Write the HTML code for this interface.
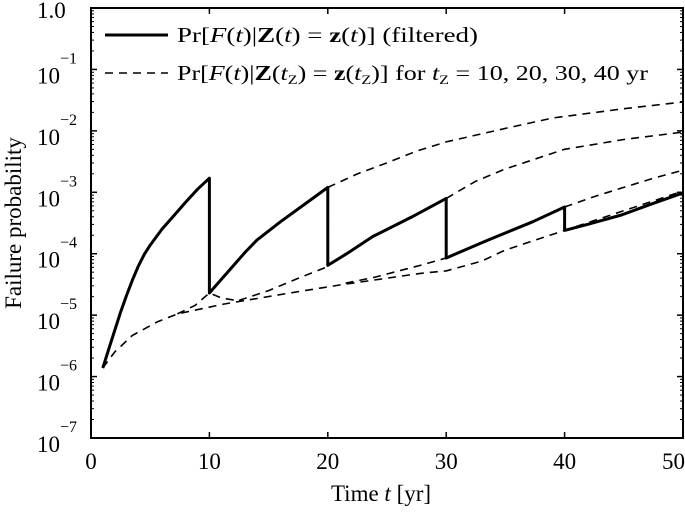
<!DOCTYPE html>
<html><head><meta charset="utf-8"><style>
html,body{margin:0;padding:0;background:#fff;}
svg, svg text{font-family:"Liberation Serif","Times New Roman",Times,serif;}
</style></head><body>
<svg id="chart" width="685" height="507" viewBox="0 0 685 507" xmlns="http://www.w3.org/2000/svg" font-family="Liberation Serif, Times New Roman, serif">
<g id="marks"></g>
<g id="axes"></g>
<g>
  <line x1="105" y1="35" x2="168" y2="35" stroke="#000" stroke-width="3"/>
  <text x="177" y="42" font-size="21" textLength="301" lengthAdjust="spacingAndGlyphs">Pr[<tspan font-style="italic">F</tspan>(<tspan font-style="italic">t</tspan>)|<tspan font-weight="bold">Z</tspan>(<tspan font-style="italic">t</tspan>) = <tspan font-weight="bold">z</tspan>(<tspan font-style="italic">t</tspan>)] (filtered)</text>
  <line x1="105" y1="73" x2="168" y2="73" stroke="#000" stroke-width="1.6" stroke-dasharray="8,6"/>
  <text x="177" y="80" font-size="21" textLength="471" lengthAdjust="spacingAndGlyphs">Pr[<tspan font-style="italic">F</tspan>(<tspan font-style="italic">t</tspan>)|<tspan font-weight="bold">Z</tspan>(<tspan font-style="italic">t</tspan><tspan font-size="13" dy="4">Z</tspan><tspan dy="-4">) = </tspan><tspan font-weight="bold">z</tspan>(<tspan font-style="italic">t</tspan><tspan font-size="13" dy="4">Z</tspan><tspan dy="-4">)] for </tspan><tspan font-style="italic">t</tspan><tspan font-size="13" dy="4">Z</tspan><tspan dy="-4"> = 10, 20, 30, 40 yr</tspan></text>
</g>
<text x="381" y="501" font-size="23" text-anchor="middle">Time <tspan font-style="italic">t</tspan> [yr]</text>
<text transform="translate(21,223) rotate(-90)" font-size="23" text-anchor="middle">Failure probability</text>
</svg>
<script>
// Data (time in years, value = log10 failure probability)
const xTicks = [0, 10, 20, 30, 40, 50];
const yTickExps = [-7, -6, -5, -4, -3, -2, -1, 0];
const yTickLabels = ["10","10","10","10","10","10","10","1.0"];
const yTickSups = ["\u22127","\u22126","\u22125","\u22124","\u22123","\u22122","\u22121",""];

const filteredT = [1, 1.5, 2, 2.5, 3, 3.5, 4, 4.5, 5, 6, 7, 8, 9, 10, 10, 11, 12, 13, 14, 16, 18, 20, 20, 21.6, 23.8, 27.1, 30, 30, 33.5, 37.3, 40, 40, 42, 44.8, 47.5, 50];
const filteredV = [-5.86, -5.55, -5.25, -4.95, -4.68, -4.43, -4.2, -4.01, -3.86, -3.6, -3.38, -3.16, -2.95, -2.77, -4.64, -4.42, -4.2, -3.98, -3.78, -3.48, -3.2, -2.92, -4.19, -4.0, -3.72, -3.4, -3.1, -4.07, -3.78, -3.48, -3.24, -3.62, -3.52, -3.37, -3.18, -3.01];

const priorT = [1, 2, 3.5, 5.6, 7.3, 11.2, 16.8, 21, 27.8, 30, 33, 35, 37.5, 40, 45, 50];
const priorV = [-5.86, -5.6, -5.33, -5.11, -4.98, -4.82, -4.64, -4.51, -4.32, -4.28, -4.12, -3.94, -3.78, -3.62, -3.3, -2.98];

const tz10T = [7.3, 8.8, 10, 11, 12.5];
const tz10V = [-4.98, -4.84, -4.64, -4.72, -4.77];
const tz20T = [12.5, 15, 17.5, 20];
const tz20V = [-4.76, -4.6, -4.4, -4.21];
const tz30T = [21.5, 24, 26, 27.8, 30];
const tz30V = [-4.48, -4.38, -4.28, -4.19, -4.07];

const upperT = [20, 22.5, 25, 27.5, 30, 35, 39, 45, 50];
const upperV = [-2.92, -2.7, -2.52, -2.33, -2.18, -1.96, -1.79, -1.64, -1.53];
const midT = [30, 32.5, 35, 40, 45, 50];
const midV = [-3.1, -2.82, -2.62, -2.3, -2.14, -2.02];
const lowT = [40, 42.5, 45, 47.5, 50];
const lowV = [-3.24, -3.07, -2.92, -2.77, -2.64];

const X0 = 91, X1 = 683, Y0 = 8, Y1 = 438;
const xs = t => X0 + (t - 0) / 50 * (X1 - X0);
const ys = v => Y0 + (0 - v) / 7 * (Y1 - Y0);
const NS = "http://www.w3.org/2000/svg";
const marks = document.getElementById("marks");
const axes = document.getElementById("axes");

function mk(tag, attrs, parent) {
  const e = document.createElementNS(NS, tag);
  for (const k in attrs) e.setAttribute(k, attrs[k]);
  parent.appendChild(e);
  return e;
}
function poly(T, V) {
  return T.map((t, i) => xs(t).toFixed(1) + "," + ys(V[i]).toFixed(1)).join(" ");
}

const dashed = [[priorT, priorV, "prior"], [tz10T, tz10V, "tz10"], [tz20T, tz20V, "tz20"], [tz30T, tz30V, "tz30"], [upperT, upperV, "upper"], [midT, midV, "mid"], [lowT, lowV, "low"]];
dashed.forEach(d => {
  const p = mk("polyline", {points: poly(d[0], d[1]), fill: "none", stroke: "#000", "stroke-width": 1.6, "stroke-dasharray": "8,6"}, marks);
  
  
});
const sol = mk("polyline", {points: poly(filteredT, filteredV), fill: "none", stroke: "#000", "stroke-width": 3, "stroke-linejoin": "round"}, marks);



const frame = mk("rect", {x: X0, y: Y0, width: X1 - X0, height: Y1 - Y0, fill: "none", stroke: "#000", "stroke-width": 2}, axes);



xTicks.forEach((t, i) => {
  const x = xs(t);
  mk("line", {x1: x, y1: Y1, x2: x, y2: Y1 - 6, stroke: "#000", "stroke-width": 1.5}, axes);
  mk("line", {x1: x, y1: Y0, x2: x, y2: Y0 + 6, stroke: "#000", "stroke-width": 1.5}, axes);
  const last = i === xTicks.length - 1;
  const lb = mk("text", {x: last ? 685 : x, y: 469, "font-size": 23, "text-anchor": last ? "end" : "middle"}, axes);
  lb.textContent = String(t);
  
  
});

yTickExps.forEach((e, i) => {
  const y = ys(e);
  mk("line", {x1: X0, y1: y, x2: X0 + 6, y2: y, stroke: "#000", "stroke-width": 1.5}, axes);
  mk("line", {x1: X1, y1: y, x2: X1 - 6, y2: y, stroke: "#000", "stroke-width": 1.5}, axes);
  if (e < 0) {
    for (let m = 2; m <= 9; m++) {
      const yy = ys(e + Math.log10(m));
      mk("line", {x1: X0, y1: yy, x2: X0 + 3, y2: yy, stroke: "#000", "stroke-width": 1}, axes);
      mk("line", {x1: X1, y1: yy, x2: X1 - 3, y2: yy, stroke: "#000", "stroke-width": 1}, axes);
    }
  }
  const lb = mk("text", {x: 37, y: y + 8, "font-size": 23}, axes);
  
  
  if (yTickSups[i]) {
    lb.setAttribute("y", y + 14);
    const a = mk("tspan", {}, lb); a.textContent = yTickLabels[i];
    const b = mk("tspan", {dy: -20, "font-size": 16}, lb); b.textContent = yTickSups[i];
  } else {
    lb.setAttribute("y", y + 10);
    lb.textContent = yTickLabels[i];
  }
});
</script>
</body></html>
